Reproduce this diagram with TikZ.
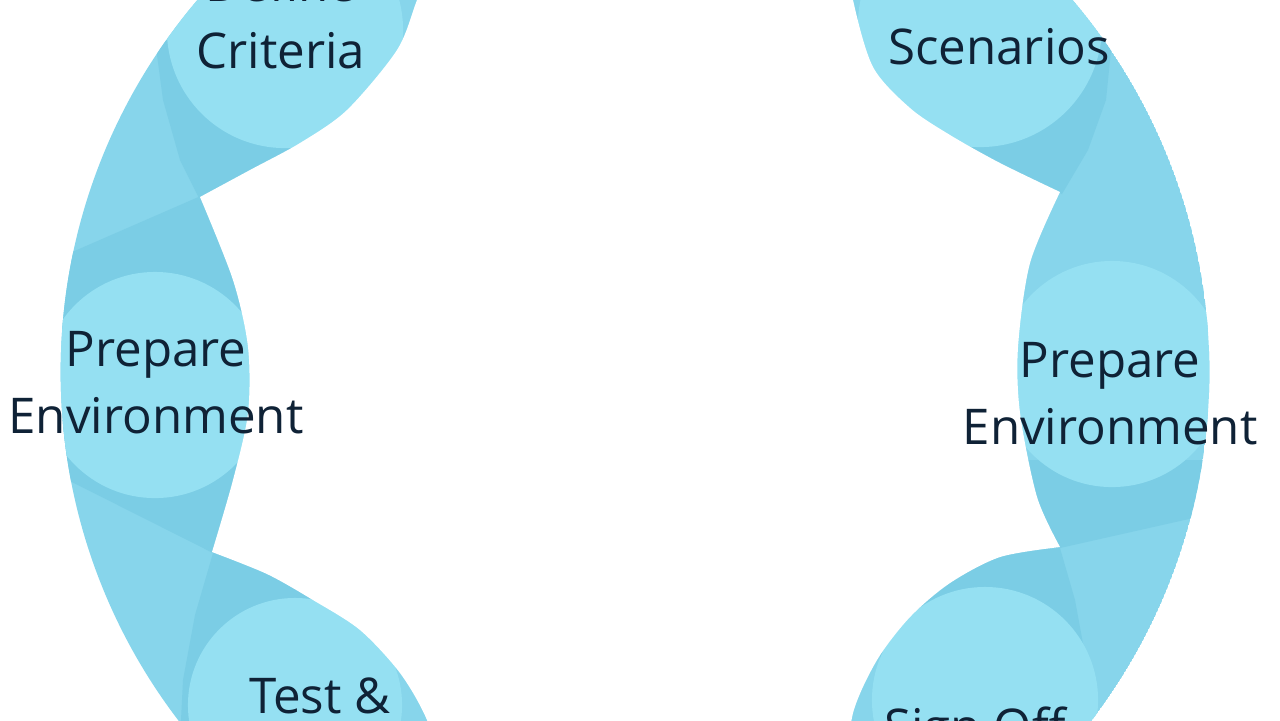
\documentclass[tikz,border=0pt]{standalone}
\usepackage{fontspec}
\setmainfont{Open Sans}
\usetikzlibrary{calc}
\definecolor{ringmid}{HTML}{87D5EB}
\definecolor{ringdark}{HTML}{7BCDE5}
\definecolor{ringlight}{HTML}{95E0F2}
\definecolor{labelnavy}{HTML}{0F2236}
\tikzset{
    every node/.style={font=\fontsize{14}{19}\selectfont},
    step label/.style={text=labelnavy, align=center, inner sep=0pt},
    step disc/.style={fill=ringlight},
    tail shade/.style={fill=ringdark}
}
\begin{document}
\begin{tikzpicture}[
            x = 0.01cm, % one unit per pixel
            y = -0.01cm, % y runs downwards
            line join = round
        ]
        \useasboundingbox (0,0) rectangle (1280,720);
        \clip (0,0) rectangle (1280,720);

        \coordinate (hub) at (635,372);

        \begin{scope}
            \clip (hub) circle [radius=5.74cm];
            \fill[ringmid] (hub) circle [radius=5.74cm];

            % darker tails next to the cusps
            \fill[tail shade] (155,40) -- (163,100) -- (180,160) -- (200,200) -- (320,150) -- (320,40) -- cycle;
            \fill[tail shade] (40,266) -- (203,195) -- (270,250) -- (270,330) -- (40,330) -- cycle;
            \fill[tail shade] (40,466) -- (213,553) -- (270,500) -- (270,420) -- (40,420) -- cycle;
            \fill[tail shade] (213,553) -- (195,615) -- (183,680) -- (180,740) -- (330,740) -- (330,560) -- cycle;
            \fill[tail shade] (1112,40) -- (1106,100) -- (1088,150) -- (1062,194) -- (940,150) -- (940,40) -- cycle;
            \fill[tail shade] (1000,460) -- (1000,545) -- (1060,548) -- (1220,512) -- (1220,460) -- cycle;
            \fill[tail shade] (1060,548) -- (1075,600) -- (1086,660) -- (1092,740) -- (880,740) -- (880,560) -- cycle;

            % the step discs
            \fill[step disc] (285,30) circle [radius=1.18cm];
            \fill[step disc] (155,385) circle [radius=1.13cm];
            \fill[step disc] (295,705) circle [radius=1.07cm];
            \fill[step disc] (980,25) circle [radius=1.22cm];
            \fill[step disc] (1112,374) circle [radius=1.13cm];
            \fill[step disc] (985,700) circle [radius=1.13cm];
        \end{scope}

        % hollow centre of the ring
        \fill[white]
            plot[smooth] coordinates {(440,-60) (417,0) (397,50) (347,110) (300,143) (250,170) (200,197)}
            -- plot[smooth] coordinates {(200,197) (233,280) (248,347) (248,413) (233,480) (212,552)}
            -- plot[smooth] coordinates {(212,552) (267,574) (313,600) (360,630) (400,673) (427,720) (445,780)}
            -- (845,780)
            -- plot[smooth] coordinates {(845,780) (853,713) (877,660) (910,617) (950,583) (1000,557) (1060,547)}
            -- plot[smooth] coordinates {(1060,547) (1037,497) (1020,413) (1018,347) (1030,263) (1060,192)}
            -- plot[smooth] coordinates {(1060,192) (1000,163) (950,135) (910,108) (873,67) (853,0) (845,-60)}
            -- cycle;

        \node[step label] (criteria) at (281,16.5) {Define\\Criteria};
        \node[step label] (envleft) at (156,383) {Prepare\\Environment};
        \node[step label, anchor=base] (test) at (320,713) {Test \&};
        \node[step label] (scenarios) at (999,13.5) {Write\\Scenarios};
        \node[step label] (envright) at (1110,394) {Prepare\\Environment};
        \node[step label, anchor=base] (signoff) at (975,744) {Sign Off};
\end{tikzpicture}
\end{document}
